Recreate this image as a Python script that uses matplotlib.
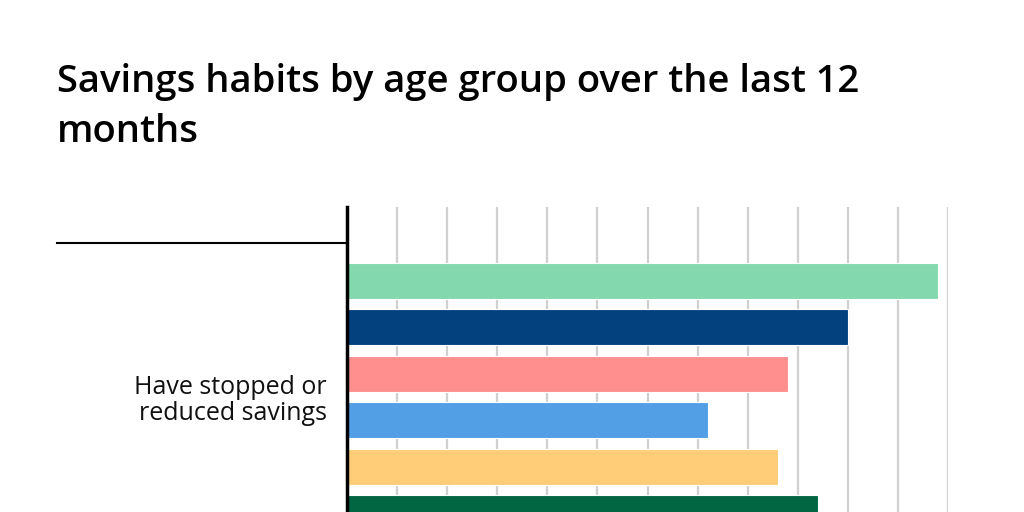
import matplotlib.pyplot as plt
from matplotlib.transforms import blended_transform_factory

categories = ["Have stopped or\nreduced savings"]
# one bar per age group (legend not shown in the crop)
values = [59, 50, 44, 36, 43, 47]
colors = ["#84D8AD", "#03417E", "#FF8F8E", "#539FE6", "#FFCD78", "#036642"]

fig = plt.figure(figsize=(10.24, 5.12), dpi=100)
ax = fig.add_axes([347/1024, 1 - 551/512, (948-347)/1024, (551-207)/512])

pitch = 0.1506
bar_h = 0.117
n = len(values)
for i, (v, c) in enumerate(zip(values, colors)):
    y = (i - (n - 1) / 2) * pitch
    ax.barh(y, v, height=bar_h, color=c, edgecolor="white", linewidth=0.8, zorder=3)

ax.set_xlim(0, 60)
ax.set_ylim(0.5, -0.617)
ax.set_xticks(range(5, 61, 5))
ax.set_xticklabels([])
ax.tick_params(length=0)
ax.grid(axis="x", color="#D0D0D0", linewidth=1.6, zorder=0)
ax.set_yticks([0])
ax.set_yticklabels(categories, fontsize=18, family="Open Sans", color="#111111",
                   linespacing=1.07)
ax.tick_params(axis="y", pad=14.5)
for s in ["top", "right", "bottom"]:
    ax.spines[s].set_visible(False)
ax.spines["left"].set_linewidth(2.5)
ax.spines["left"].set_zorder(5)

# category separator line
tr = blended_transform_factory(ax.transAxes, ax.transData)
ax.plot([-0.4825, 0], [-0.5, -0.5], color="black", linewidth=1.5, transform=tr, clip_on=False)

fig.text(57/1024, 1 - 63/512, "Savings habits by age group over the last 12\nmonths",
         fontsize=27.5, fontweight="semibold", family="Open Sans", va="top", ha="left",
         linespacing=1.42, color="black")

fig.savefig("out.png", dpi=100)
